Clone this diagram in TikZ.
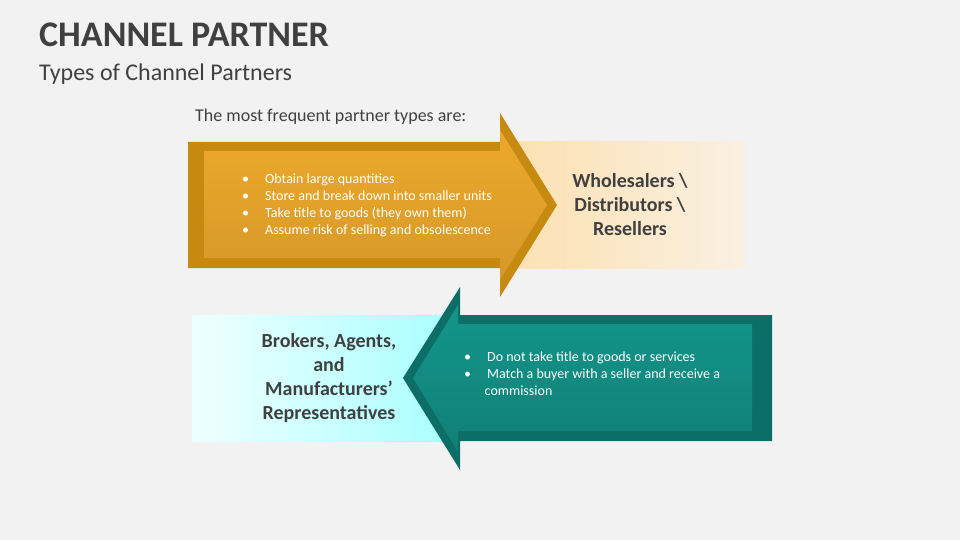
\documentclass[tikz,border=0pt]{standalone}
\usepackage{fontspec}
\setmainfont{Carlito}
\definecolor{bg}{HTML}{F2F2F2}
\definecolor{txt}{HTML}{404040}
\definecolor{ordark}{HTML}{C68A10}
\definecolor{orin}{HTML}{EDA92C}
\definecolor{tdark}{HTML}{0C6E66}
\definecolor{tin}{HTML}{13968B}
\definecolor{pale}{HTML}{FCE0B0}
\definecolor{pale2}{HTML}{FAF0E2}
\begin{document}
\begin{tikzpicture}[x=1pt,y=-1pt,
  bul/.style={text=white,font=\fontsize{14}{17}\selectfont,align=left,anchor=west,inner sep=0pt},
  lab/.style={text=txt,font=\bfseries\fontsize{20}{24}\selectfont,align=center}]
\useasboundingbox[fill=bg] (0,0) rectangle (960,540);
\node[anchor=west,text=txt,font=\bfseries\fontsize{36}{40}\selectfont,inner sep=0pt] (title) at (39,35) {CHANNEL PARTNER};
\node[anchor=west,text=txt,font=\fontsize{24}{26}\selectfont,inner sep=0pt] (sub) at (39,74) {Types of Channel Partners};
\node[anchor=west,text=txt,font=\fontsize{18}{20}\selectfont,inner sep=0pt] (intro) at (195,117) {The most frequent partner types are:};
% top panel
\shade[left color=pale,right color=pale2] (500,142) rectangle (745,268);
\fill[ordark] (188,142) -- (500,142) -- (500,113) -- (557,205) -- (500,297) -- (500,268) -- (188,268) -- cycle;
\shade[top color=orin,bottom color=orin!90!black] (204,151) -- (500,151) -- (500,130) -- (547,205) -- (500,280) -- (500,258) -- (204,258) -- cycle;
\node[bul] (tb) at (242,205) {•\hspace{16pt}Obtain large quantities\\•\hspace{16pt}Store and break down into smaller units\\•\hspace{16pt}Take title to goods (they own them)\\•\hspace{16pt}Assume risk of selling and obsolescence};
\node[lab] (tl) at (630,205) {Wholesalers \textbackslash\\Distributors \textbackslash\\Resellers};
% bottom panel
\shade[left color=cyan!6!white,right color=cyan!35!white] (192,315) rectangle (460,441);
\fill[tdark] (772,315) -- (460,315) -- (460,287) -- (403,378) -- (460,470) -- (460,441) -- (772,441) -- cycle;
\shade[top color=tin,bottom color=tin!85!black] (752,324) -- (458,324) -- (458,305) -- (413,378) -- (458,452) -- (458,431) -- (752,431) -- cycle;
\node[bul,anchor=north west] (bb) at (464,352) {•\hspace{16pt}Do not take title to goods or services\\•\hspace{16pt}Match a buyer with a seller and receive a\\\hspace{20.5pt}commission};
\node[lab] (bl) at (329,378) {Brokers, Agents,\\and\\Manufacturers’\\Representatives};
\end{tikzpicture}
\end{document}
